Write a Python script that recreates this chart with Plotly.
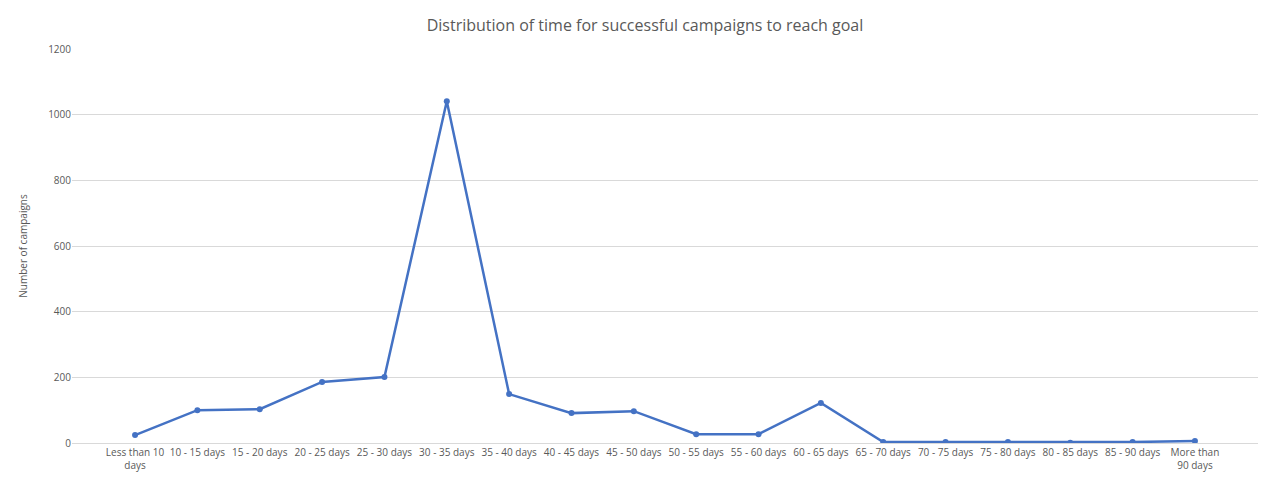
import plotly.graph_objects as go

categories = ["Less than 10<br>days", "10 - 15 days", "15 - 20 days", "20 - 25 days", "25 - 30 days",
              "30 - 35 days", "35 - 40 days", "40 - 45 days", "45 - 50 days", "50 - 55 days",
              "55 - 60 days", "60 - 65 days", "65 - 70 days", "70 - 75 days", "75 - 80 days",
              "80 - 85 days", "85 - 90 days", "More than<br>90 days"]
campaigns = [24, 100, 103, 186, 201, 1041, 149, 91, 97, 27, 27, 122, 3, 3, 3, 1, 3, 6]

fig = go.Figure(go.Scatter(
    x=categories, y=campaigns, mode="lines+markers",
    line=dict(color="#4472C4", width=2.5), marker=dict(color="#4472C4", size=6),
))
fig.update_layout(
    width=1274, height=489, paper_bgcolor="white", plot_bgcolor="white",
    margin=dict(l=64, r=24, t=41, b=54, autoexpand=False),
    font=dict(family="Open Sans, Liberation Sans, sans-serif", size=10, color="#595959"),
    title=dict(text="Distribution of time for successful campaigns to reach goal",
               x=0.5, xanchor="center", y=0.975, font=dict(size=16, color="#595959")),
    showlegend=False,
)
fig.update_xaxes(showgrid=False, showline=True, linecolor="#D9D9D9", ticks="", automargin=False,
                 tickfont=dict(size=10, color="#595959"))
fig.update_yaxes(range=[0, 1200], dtick=200, gridcolor="#D9D9D9", zeroline=False, automargin=False,
                 title=dict(text="Number of campaigns", standoff=18, font=dict(size=10, color="#595959")),
                 tickfont=dict(size=10, color="#595959"))
fig.write_html("out.html")
